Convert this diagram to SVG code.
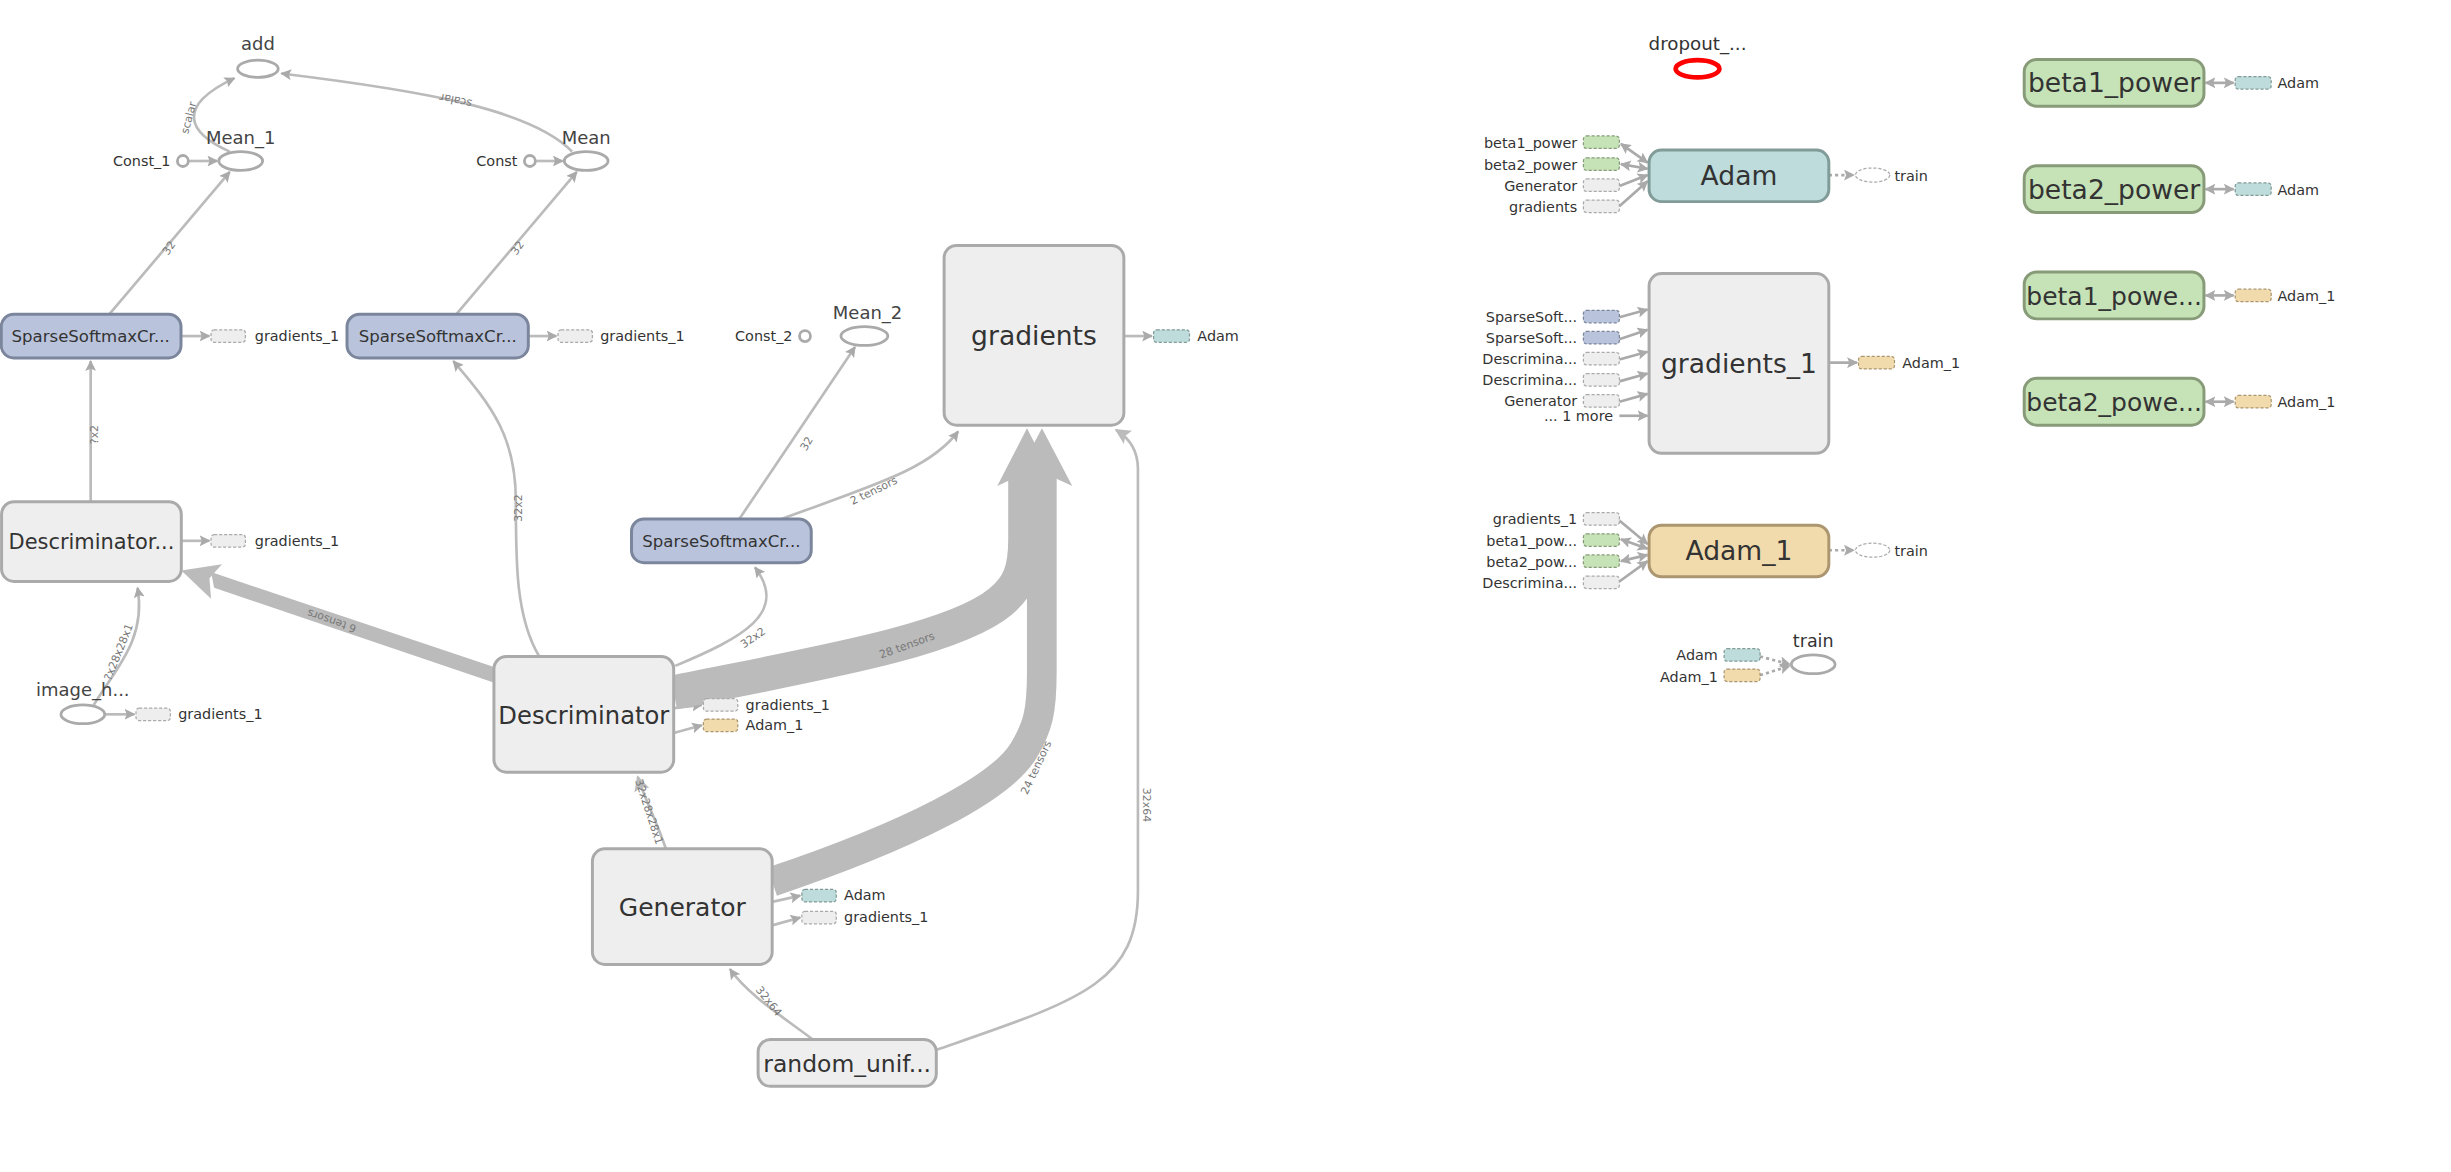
<svg xmlns="http://www.w3.org/2000/svg" width="2451" height="1172" viewBox="0 0 2451 1172">
<defs>
<style>
text{font-family:"DejaVu Sans","Liberation Sans",sans-serif;fill:#333}
.n{fill:#eee;stroke:#aaa;stroke-width:1.9}
.sp{fill:#b9c4dc;stroke:#7b869c;stroke-width:1.9}
.ad{fill:#bddcdb;stroke:#819b98;stroke-width:1.9}
.a1{fill:#f1dbad;stroke:#ab9670;stroke-width:1.9}
.gr{fill:#c6e2b7;stroke:#889b79;stroke-width:1.9}
.op{fill:#fff;stroke:#aaa;stroke-width:1.8}
.e{fill:none;stroke:#bbb;stroke-width:1.7}
.er{fill:none;stroke:#aaa;stroke-width:1.7}
.ed{fill:none;stroke:#aaa;stroke-width:1.7;stroke-dasharray:2 2}
.th{fill:#bbb;stroke:none}
.el{font-size:7px;fill:#777}
.sl{font-size:9.2px}
.st{stroke-width:0.8;stroke-dasharray:2 1.2}
.sg{fill:#eee;stroke:#aaa}
.sb{fill:#b9c4dc;stroke:#7b869c}
.sa{fill:#bddcdb;stroke:#819b98}
.so{fill:#f1dbad;stroke:#ab9670}
.sn{fill:#c6e2b7;stroke:#889b79}
.nl{font-size:11.5px;fill:#444}
</style>
<marker id="a" viewBox="0 0 10 10" refX="9" refY="5" markerWidth="7" markerHeight="7" markerUnits="userSpaceOnUse" orient="auto-start-reverse"><path d="M0,0 L10,5 L0,10 L2,5 z" fill="#aaa"/></marker>
<marker id="ab" viewBox="0 0 10 10" refX="9" refY="5" markerWidth="10" markerHeight="10" markerUnits="userSpaceOnUse" orient="auto"><path d="M0,0 L10,5 L0,10 L2,5 z" fill="#bbb"/></marker>
</defs>
<rect width="2451" height="1172" fill="#fff"/>
<g transform="scale(1.5631)">

<g id="edges">
<!-- left -->
<line class="e" x1="121" y1="103" x2="139" y2="103" marker-end="url(#a)"/>
<line class="e" x1="343" y1="103" x2="360" y2="103" marker-end="url(#a)"/>
<path class="e" d="M147,97 C120,85 112,68 150,50" marker-end="url(#a)"/>
<path class="e" d="M366,97 C340,70 270,58 180,47" marker-end="url(#a)"/>
<path class="e" d="M70,201 L147,110" marker-end="url(#a)"/>
<path class="e" d="M292,201 L369,110" marker-end="url(#a)"/>
<line class="e" x1="116" y1="215" x2="134" y2="215" marker-end="url(#a)"/>
<line class="e" x1="338" y1="215" x2="356" y2="215" marker-end="url(#a)"/>
<path class="e" d="M58,321 L58,231" marker-end="url(#a)"/>
<line class="e" x1="116" y1="346" x2="134" y2="346" marker-end="url(#a)"/>
<path class="e" d="M60,451 C72,430 94,410 88,376" stroke-width="2.6" marker-end="url(#a)"/>
<line class="e" x1="67" y1="457" x2="86" y2="457" marker-end="url(#a)"/>
<path class="th" d="M317,427 L320,438 L137,376 L135,366 Z"/>
<polygon class="th" points="116,365 142,361 134,370 135,383"/>
<path class="e" d="M345,420 C330,395 330,360 330,320 C330,280 315,260 290,231" marker-end="url(#a)"/>
<path class="e" d="M432,426 C475,408 505,392 483,363" marker-end="url(#a)"/>
<line class="e" x1="431" y1="453" x2="449" y2="451" marker-end="url(#a)"/>
<line class="e" x1="431" y1="469" x2="449" y2="464" marker-end="url(#a)"/>
<path class="e" d="M473,332 L547,222" marker-end="url(#a)"/>
<path class="e" d="M500,332 C560,310 595,300 613,276" marker-end="url(#a)"/>
<line class="e" x1="719" y1="215" x2="737" y2="215" marker-end="url(#a)"/>
<path d="M431,443 C520,425 610,410 640,385 C652,375 656,365 656,345 L656,300" fill="none" stroke="#bbb" stroke-width="22"/>
<path d="M494,564 C580,535 640,505 655,480 C664,465 666.5,455 666.5,430 L666.5,300" fill="none" stroke="#bbb" stroke-width="19"/>
<polygon class="th" points="657,274 676,311 657,302 638,311"/>
<polygon class="th" points="666.6,274 686,311 666.6,302 647,311"/>
<path class="e" d="M598,672 C690,640 728,630 728,570 L728,300 C728,288 722,280 714,275" stroke-width="3.2" marker-end="url(#ab)"/>
<path class="e" d="M426,543 C420,525 412,510 408,497" stroke-width="4.5" marker-end="url(#ab)"/>
<path class="e" d="M520,665 C500,650 478,636 467,620" stroke-width="2.8" marker-end="url(#a)"/>
<line class="e" x1="494" y1="577" x2="512" y2="573" marker-end="url(#a)"/>
<line class="e" x1="494" y1="592" x2="512" y2="587" marker-end="url(#a)"/>
<!-- edge labels -->
<text class="el" transform="translate(123,76) rotate(-75)" text-anchor="middle">scalar</text>
<text class="el" transform="translate(292,62) rotate(192)" text-anchor="middle">scalar</text>
<text class="el" transform="translate(110,160) rotate(-55)" text-anchor="middle">32</text>
<text class="el" transform="translate(333,160) rotate(-55)" text-anchor="middle">32</text>
<text class="el" transform="translate(63,278) rotate(-90)" text-anchor="middle">?x2</text>
<text class="el" transform="translate(78,418) rotate(-68)" text-anchor="middle">?x28x28x1</text>
<text class="el" transform="translate(213,395) rotate(199)" text-anchor="middle">6 tensors</text>
<text class="el" transform="translate(334,325) rotate(-90)" text-anchor="middle">32x2</text>
<text class="el" transform="translate(483,410) rotate(-34)" text-anchor="middle">32x2</text>
<text class="el" transform="translate(518,285) rotate(-60)" text-anchor="middle">32</text>
<text class="el" transform="translate(560,316) rotate(-26)" text-anchor="middle">2 tensors</text>
<text class="el" transform="translate(581,415) rotate(-20)" text-anchor="middle">28 tensors</text>
<text class="el" transform="translate(665,492) rotate(-65)" text-anchor="middle">24 tensors</text>
<text class="el" transform="translate(731,515) rotate(90)" text-anchor="middle">32x64</text>
<text class="el" transform="translate(413,520) rotate(72)" text-anchor="middle">32x28x28x1</text>
<text class="el" transform="translate(490,642) rotate(52)" text-anchor="middle">32x64</text>
<!-- right -->
<line class="er" x1="1037" y1="92" x2="1054" y2="104" marker-start="url(#a)" marker-end="url(#a)"/>
<line class="er" x1="1037" y1="105" x2="1054" y2="108" marker-start="url(#a)" marker-end="url(#a)"/>
<line class="er" x1="1036" y1="119" x2="1054" y2="112" marker-end="url(#a)"/>
<line class="er" x1="1036" y1="132" x2="1054" y2="116" marker-end="url(#a)"/>
<line class="ed" x1="1170" y1="112" x2="1186" y2="112" marker-end="url(#a)"/>
<line class="er" x1="1036" y1="203" x2="1054" y2="198" marker-end="url(#a)"/>
<line class="er" x1="1036" y1="217" x2="1054" y2="211" marker-end="url(#a)"/>
<line class="er" x1="1036" y1="230" x2="1054" y2="225" marker-end="url(#a)"/>
<line class="er" x1="1036" y1="244" x2="1054" y2="239" marker-end="url(#a)"/>
<line class="er" x1="1036" y1="257" x2="1054" y2="252" marker-end="url(#a)"/>
<line class="er" x1="1036" y1="266" x2="1054" y2="266" marker-end="url(#a)"/>
<line class="er" x1="1170" y1="232" x2="1188" y2="232" marker-end="url(#a)"/>
<line class="er" x1="1036" y1="333" x2="1054" y2="348" marker-end="url(#a)"/>
<line class="er" x1="1037" y1="345" x2="1054" y2="351" marker-start="url(#a)" marker-end="url(#a)"/>
<line class="er" x1="1037" y1="359" x2="1054" y2="355" marker-start="url(#a)" marker-end="url(#a)"/>
<line class="er" x1="1036" y1="372" x2="1054" y2="359" marker-end="url(#a)"/>
<line class="ed" x1="1170" y1="352" x2="1186" y2="352" marker-end="url(#a)"/>
<line class="ed" x1="1126" y1="420" x2="1145" y2="425" marker-end="url(#a)"/>
<line class="ed" x1="1126" y1="432" x2="1145" y2="426" marker-end="url(#a)"/>
<line class="er" x1="1411" y1="53" x2="1429" y2="53" marker-start="url(#a)" marker-end="url(#a)"/>
<line class="er" x1="1411" y1="121" x2="1429" y2="121" marker-start="url(#a)" marker-end="url(#a)"/>
<line class="er" x1="1411" y1="189" x2="1429" y2="189" marker-start="url(#a)" marker-end="url(#a)"/>
<line class="er" x1="1411" y1="257" x2="1429" y2="257" marker-start="url(#a)" marker-end="url(#a)"/>
</g>

<!-- left nodes -->
<g id="add"><text class="nl" x="165" y="32" text-anchor="middle">add</text><ellipse class="op" cx="165" cy="44" rx="13" ry="5.5"/></g>
<g id="Mean_1"><text class="nl" x="154" y="92" text-anchor="middle">Mean_1</text><ellipse class="op" cx="154" cy="103" rx="14" ry="6"/></g>
<g id="Const_1"><text class="sl" x="109" y="106" text-anchor="end">Const_1</text><circle class="op" cx="117" cy="103" r="3.5"/></g>
<g id="Mean"><text class="nl" x="375" y="92" text-anchor="middle">Mean</text><ellipse class="op" cx="375" cy="103" rx="14" ry="6"/></g>
<g id="Const"><text class="sl" x="331" y="106" text-anchor="end">Const</text><circle class="op" cx="339" cy="103" r="3.5"/></g>

<g id="SparseSoftmax1"><rect class="sp" x="0.8" y="201" width="115" height="28" rx="8"/><text x="58" y="219" font-size="10.6" text-anchor="middle">SparseSoftmaxCr...</text>
<rect class="st sg" x="135" y="211" width="22" height="8" rx="2"/><text class="sl" x="163" y="218">gradients_1</text></g>
<g id="SparseSoftmax2"><rect class="sp" x="222" y="201" width="116" height="28" rx="8"/><text x="280" y="219" font-size="10.6" text-anchor="middle">SparseSoftmaxCr...</text>
<rect class="st sg" x="357" y="211" width="22" height="8" rx="2"/><text class="sl" x="384" y="218">gradients_1</text></g>

<g id="DescriminatorL"><rect class="n" x="1" y="321" width="115" height="51" rx="8"/><text x="58.5" y="351" font-size="13.4" text-anchor="middle">Descriminator...</text>
<rect class="st sg" x="135" y="342" width="22" height="8" rx="2"/><text class="sl" x="163" y="349">gradients_1</text></g>

<g id="image_h"><text class="nl" x="53" y="445" text-anchor="middle">image_h...</text><ellipse class="op" cx="53" cy="457" rx="14" ry="6"/>
<rect class="st sg" x="87" y="453" width="22" height="8" rx="2"/><text class="sl" x="114" y="460">gradients_1</text></g>

<g id="Descriminator"><rect class="n" x="316" y="420" width="115" height="74" rx="8"/><text x="373.5" y="463" font-size="15.5" text-anchor="middle">Descriminator</text>
<rect class="st sg" x="450" y="447" width="22" height="8" rx="2"/><text class="sl" x="477" y="454">gradients_1</text>
<rect class="st so" x="450" y="460" width="22" height="8" rx="2"/><text class="sl" x="477" y="467">Adam_1</text></g>

<g id="SparseSoftmax3"><rect class="sp" x="404" y="332" width="115" height="28" rx="8"/><text x="461.5" y="350" font-size="10.6" text-anchor="middle">SparseSoftmaxCr...</text></g>

<g id="Mean_2"><text class="nl" x="555" y="204" text-anchor="middle">Mean_2</text><ellipse class="op" cx="553" cy="215" rx="15" ry="6"/></g>
<g id="Const_2"><text class="sl" x="507" y="218" text-anchor="end">Const_2</text><circle class="op" cx="515" cy="215" r="3.5"/></g>

<g id="gradients"><rect class="n" x="604" y="157" width="115" height="115" rx="8"/><text x="661.5" y="221" font-size="17" text-anchor="middle">gradients</text>
<rect class="st sa" x="738" y="211" width="23" height="8" rx="2"/><text class="sl" x="766" y="218">Adam</text></g>

<g id="Generator"><rect class="n" x="379" y="543" width="115" height="74" rx="8"/><text x="436.5" y="586" font-size="16" text-anchor="middle">Generator</text>
<rect class="st sa" x="513" y="569" width="22" height="8" rx="2"/><text class="sl" x="540" y="576">Adam</text>
<rect class="st sg" x="513" y="583" width="22" height="8" rx="2"/><text class="sl" x="540" y="590">gradients_1</text></g>

<g id="random_uniform"><rect class="n" x="485" y="665" width="114" height="30" rx="8"/><text x="542" y="685.5" font-size="15" text-anchor="middle">random_unif...</text></g>

<!-- right nodes -->
<g id="dropout"><text x="1086" y="32" font-size="11.7" text-anchor="middle" fill="#444">dropout_...</text><ellipse cx="1086" cy="44" rx="14" ry="5.5" fill="#fff" stroke="#f00" stroke-width="3"/></g>

<g id="Adam"><rect class="ad" x="1055" y="96" width="115" height="33" rx="8"/><text x="1112.5" y="118.5" font-size="17" text-anchor="middle">Adam</text>
<text class="sl" x="1009" y="95" text-anchor="end">beta1_power</text><rect class="st sn" x="1013" y="87" width="23" height="8" rx="2"/>
<text class="sl" x="1009" y="108.5" text-anchor="end">beta2_power</text><rect class="st sn" x="1013" y="101" width="23" height="8" rx="2"/>
<text class="sl" x="1009" y="122" text-anchor="end">Generator</text><rect class="st sg" x="1013" y="114.5" width="23" height="8" rx="2"/>
<text class="sl" x="1009" y="135.5" text-anchor="end">gradients</text><rect class="st sg" x="1013" y="128" width="23" height="8" rx="2"/>
<ellipse cx="1198" cy="112" rx="11" ry="4.5" fill="#fff" stroke="#aaa" stroke-width="0.8" stroke-dasharray="2 1.2"/><text class="sl" x="1212" y="115.5">train</text></g>

<g id="gradients_1"><rect class="n" x="1055" y="175" width="115" height="115" rx="8"/><text x="1112.5" y="238.5" font-size="17" text-anchor="middle">gradients_1</text>
<text class="sl" x="1009" y="206" text-anchor="end">SparseSoft...</text><rect class="st sb" x="1013" y="198.5" width="23" height="8" rx="2"/>
<text class="sl" x="1009" y="219.5" text-anchor="end">SparseSoft...</text><rect class="st sb" x="1013" y="212" width="23" height="8" rx="2"/>
<text class="sl" x="1009" y="233" text-anchor="end">Descrimina...</text><rect class="st sg" x="1013" y="225.5" width="23" height="8" rx="2"/>
<text class="sl" x="1009" y="246.5" text-anchor="end">Descrimina...</text><rect class="st sg" x="1013" y="239" width="23" height="8" rx="2"/>
<text class="sl" x="1009" y="260" text-anchor="end">Generator</text><rect class="st sg" x="1013" y="252.5" width="23" height="8" rx="2"/>
<text class="sl" x="1032" y="269.5" text-anchor="end">... 1 more</text>
<rect class="st so" x="1189" y="228" width="23" height="8" rx="2"/><text class="sl" x="1217" y="235.5">Adam_1</text></g>

<g id="Adam_1"><rect class="a1" x="1055" y="336" width="115" height="33" rx="8"/><text x="1112.5" y="358.5" font-size="17" text-anchor="middle">Adam_1</text>
<text class="sl" x="1009" y="335.5" text-anchor="end">gradients_1</text><rect class="st sg" x="1013" y="328" width="23" height="8" rx="2"/>
<text class="sl" x="1009" y="349" text-anchor="end">beta1_pow...</text><rect class="st sn" x="1013" y="341.5" width="23" height="8" rx="2"/>
<text class="sl" x="1009" y="362.5" text-anchor="end">beta2_pow...</text><rect class="st sn" x="1013" y="355" width="23" height="8" rx="2"/>
<text class="sl" x="1009" y="376" text-anchor="end">Descrimina...</text><rect class="st sg" x="1013" y="368.5" width="23" height="8" rx="2"/>
<ellipse cx="1198" cy="352" rx="11" ry="4.5" fill="#fff" stroke="#aaa" stroke-width="0.8" stroke-dasharray="2 1.2"/><text class="sl" x="1212" y="355.5">train</text></g>

<g id="train"><text x="1160" y="414" font-size="11.2" text-anchor="middle" fill="#444">train</text><ellipse class="op" cx="1160" cy="425" rx="14" ry="6"/>
<text class="sl" x="1099" y="422.5" text-anchor="end">Adam</text><rect class="st sa" x="1103" y="415" width="23" height="8" rx="2"/>
<text class="sl" x="1099" y="436" text-anchor="end">Adam_1</text><rect class="st so" x="1103" y="428" width="23" height="8" rx="2"/></g>

<g id="beta1_power"><rect class="gr" x="1295" y="38" width="115" height="30" rx="8"/><text x="1352.5" y="59" font-size="17" text-anchor="middle">beta1_power</text>
<rect class="st sa" x="1430" y="49" width="23" height="8" rx="2"/><text class="sl" x="1457" y="56.5">Adam</text></g>
<g id="beta2_power"><rect class="gr" x="1295" y="106" width="115" height="30" rx="8"/><text x="1352.5" y="127" font-size="17" text-anchor="middle">beta2_power</text>
<rect class="st sa" x="1430" y="117" width="23" height="8" rx="2"/><text class="sl" x="1457" y="124.5">Adam</text></g>
<g id="beta1_power_1"><rect class="gr" x="1295" y="174" width="115" height="30" rx="8"/><text x="1352.5" y="195" font-size="16" text-anchor="middle">beta1_powe...</text>
<rect class="st so" x="1430" y="185" width="23" height="8" rx="2"/><text class="sl" x="1457" y="192.5">Adam_1</text></g>
<g id="beta2_power_1"><rect class="gr" x="1295" y="242" width="115" height="30" rx="8"/><text x="1352.5" y="263" font-size="16" text-anchor="middle">beta2_powe...</text>
<rect class="st so" x="1430" y="253" width="23" height="8" rx="2"/><text class="sl" x="1457" y="260.5">Adam_1</text></g>

</g>
</svg>
